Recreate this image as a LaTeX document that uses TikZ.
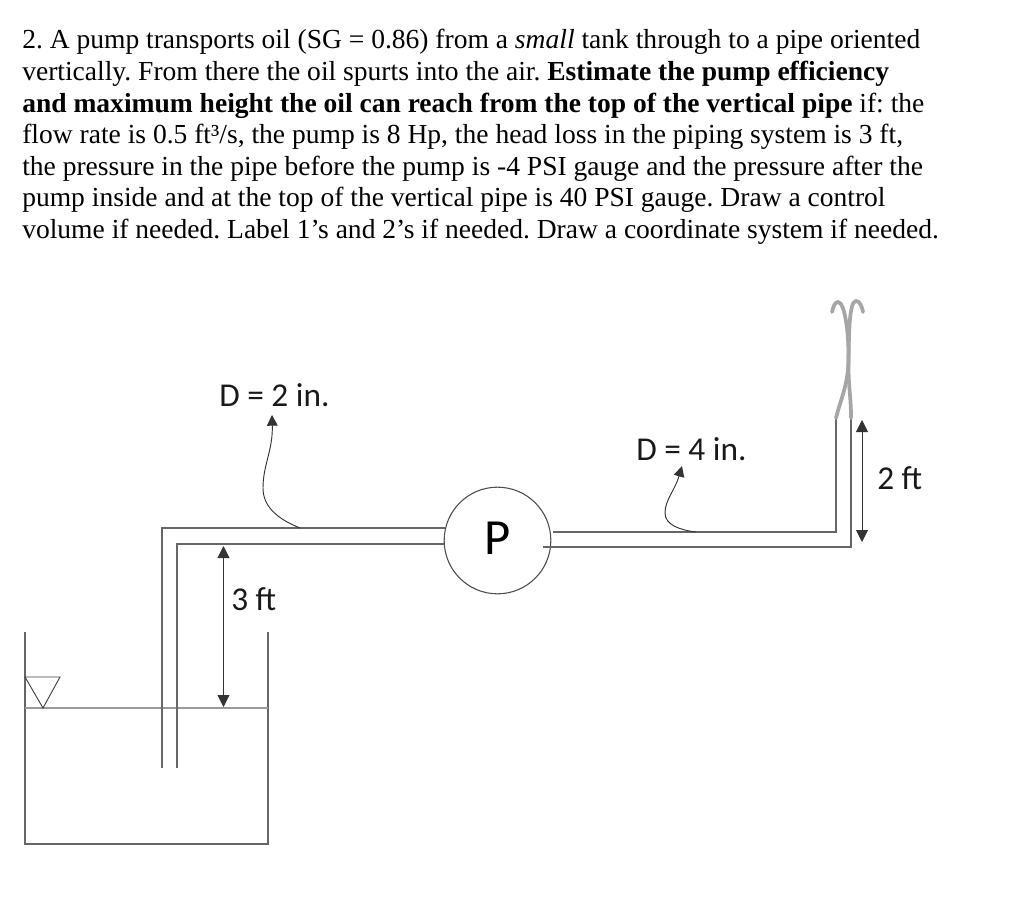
\documentclass[tikz,border=0pt]{standalone}
\usepackage{fontspec}
\setmainfont{Liberation Serif}
\newfontfamily\labelfont{Carlito}
\frenchspacing
\usetikzlibrary{arrows.meta}
\tikzset{
  line/.style={anchor=base west,inner sep=0pt,font=\fontsize{20.65}{24}\selectfont},
  pipe/.style={draw=black!60,line width=0.9pt},
  jet/.style={draw=black!35,line width=2.8pt,line cap=round},
  dim/.style={draw=black!80,line width=0.7pt,{Triangle[length=9pt,width=9pt]}-{Triangle[length=9pt,width=9pt]}},
  leader/.style={draw=black!80,line width=0.7pt,-{Triangle[length=8pt,width=8pt]}},
  lbl/.style={inner sep=0pt,font=\labelfont\fontsize{25}{29}\selectfont,text=black!90}
}
\begin{document}
\begin{tikzpicture}[x=0.75pt,y=-0.75pt]
  \useasboundingbox (0,0) rectangle (1024,898);
  % question text
  \node[line] (l1) at (22,48.7) {2. A pump transports oil (SG = 0.86) from a \textit{small} tank through to a pipe oriented};
  \node[line] (l2) at (22,80.4) {vertically. From there the oil spurts into the air. \textbf{Estimate the pump efficiency}};
  \node[line] (l3) at (22,112.1) {\textbf{and maximum height the oil can reach from the top of the vertical pipe} if: the};
  \node[line] (l4) at (22,143.7) {flow rate is 0.5 ft³/s, the pump is 8 Hp, the head loss in the piping system is 3 ft,};
  \node[line] (l5) at (22,175.3) {the pressure in the pipe before the pump is -4 PSI gauge and the pressure after the};
  \node[line] (l6) at (22,206.9) {pump inside and at the top of the vertical pipe is 40 PSI gauge. Draw a control};
  \node[line] (l7) at (22,238.7) {volume if needed. Label 1’s and 2’s if needed. Draw a coordinate system if needed.};
  % tank
  \coordinate (tankTL) at (25,632);
  \coordinate (tankBL) at (25,844);
  \coordinate (tankBR) at (268,844);
  \coordinate (tankTR) at (268,632);
  \coordinate (waterL) at (25,708);
  \coordinate (waterR) at (268,708);
  \draw[pipe] (tankTL) -- (tankBL) -- (tankBR) -- (tankTR);
  \draw[draw=black!40,line width=1.4pt] (waterL) -- (waterR);
  \coordinate (triA) at (25,677);
  \coordinate (triB) at (60,677);
  \coordinate (triC) at (43,708);
  \draw[draw=black!75,line width=0.7pt] (triA) -- (triB) -- (triC) -- cycle;
  % pump
  \node[circle,draw=black!70,line width=0.8pt,minimum size=80pt,inner sep=0pt] (pump) at (497.5,540.5) {};
  \node[inner sep=0pt,font=\labelfont\fontsize{38}{42}\selectfont] (pumpP) at (498,538) {P};
  % suction pipe
  \coordinate (sucOutB) at (162,768);
  \coordinate (sucOutT) at (162,528);
  \coordinate (sucOutE) at (445,528);
  \coordinate (sucInB) at (177,768);
  \coordinate (sucInT) at (177,544);
  \coordinate (sucInE) at (444,544);
  \draw[pipe] (sucOutB) -- (sucOutT) -- (sucOutE);
  \draw[pipe] (sucInB) -- (sucInT) -- (sucInE);
  % discharge pipe
  \coordinate (disInS) at (553,532);
  \coordinate (disInC) at (836,532);
  \coordinate (disInT) at (836,418);
  \coordinate (disOutS) at (543,547);
  \coordinate (disOutC) at (851,547);
  \coordinate (disOutT) at (851,418);
  \draw[pipe] (disInS) -- (disInC) -- (disInT);
  \draw[pipe] (disOutS) -- (disOutC) -- (disOutT);
  % oil jet
  \coordinate (jetLE) at (832,312);
  \coordinate (jetRE) at (863,312);
  \draw[jet] (disInT) .. controls (841,398) and (848,385) .. (848.5,360) .. controls (849,335) and (845,302) .. (838,302) .. controls (835,302) and (833,307) .. (jetLE);
  \draw[jet] (disOutT) .. controls (851,395) and (848,385) .. (848.5,360) .. controls (849,335) and (849,301) .. (856,301) .. controls (860,301) and (862,307) .. (jetRE);
  % dimensions
  \coordinate (dimA) at (223.5,546);
  \coordinate (dimB) at (223.5,707);
  \draw[dim] (dimA) -- (dimB);
  \node[lbl,anchor=west] (threeFt) at (231,599) {3 ft};
  \coordinate (dimC) at (862,420);
  \coordinate (dimD) at (862,542);
  \draw[dim] (dimC) -- (dimD);
  \node[lbl,anchor=west] (twoFt) at (877,478) {2 ft};
  % diameters
  \node[lbl,anchor=west] (dSmall) at (219,395) {D = 2 in.};
  \node[lbl,anchor=west] (dLarge) at (636,449) {D = 4 in.};
  \coordinate (tipSmall) at (272,415);
  \coordinate (tipLarge) at (682,466);
  \coordinate (footSmall) at (300,528);
  \coordinate (footLarge) at (696,532);
  \draw[leader] (footSmall) .. controls (275,518) and (263,505) .. (263,488) .. controls (263,465) and (273,450) .. (tipSmall);
  \draw[leader] (footLarge) .. controls (680,530) and (665,525) .. (665,513) .. controls (665,500) and (675,490) .. (tipLarge);
\end{tikzpicture}
\end{document}
